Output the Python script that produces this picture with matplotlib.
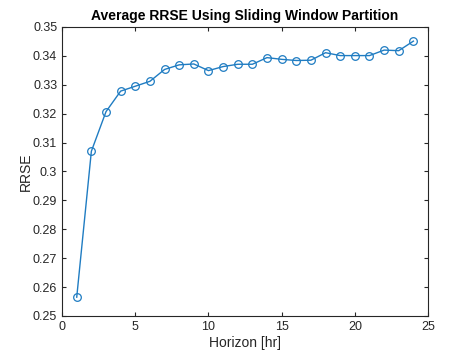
import matplotlib
matplotlib.use("Agg")
import matplotlib.pyplot as plt

horizon = list(range(1, 25))
rrse = [0.2565, 0.3070, 0.3207, 0.3278, 0.3295, 0.3312, 0.3353, 0.3369,
        0.3372, 0.3349, 0.3363, 0.3371, 0.3371, 0.3394, 0.3388, 0.3384,
        0.3385, 0.3411, 0.3401, 0.3401, 0.3401, 0.3420, 0.3418, 0.3451]

plt.rcParams['font.family'] = ['Liberation Sans', 'DejaVu Sans']
fig = plt.figure(figsize=(4.74, 3.55), dpi=100)
ax = fig.add_axes([0.131, 0.110, 0.772, 0.814])

ax.plot(horizon, rrse, color='#1f7cc2', linewidth=1.0, marker='o',
        markersize=5.5, markerfacecolor='none', markeredgewidth=0.9)

ax.set_xlim(0, 25)
ax.set_ylim(0.25, 0.35)
ax.set_xticks([0, 5, 10, 15, 20, 25])
ax.set_yticks([0.25 + 0.01 * i for i in range(11)])
ax.set_yticklabels(['0.25', '0.26', '0.27', '0.28', '0.29', '0.3',
                    '0.31', '0.32', '0.33', '0.34', '0.35'])

for s in ax.spines.values():
    s.set_color('#262626')
    s.set_linewidth(0.8)
ax.tick_params(direction='in', top=True, right=True, length=3,
               colors='#262626', labelsize=9)

ax.set_xlabel('Horizon [hr]', fontsize=10, color='#262626', labelpad=2)
ax.set_ylabel('RRSE', fontsize=10, color='#262626', labelpad=0)
ax.set_title('Average RRSE Using Sliding Window Partition', fontsize=10,
             fontweight='bold', color='black', pad=5)

fig.savefig('out.png', dpi=100)
